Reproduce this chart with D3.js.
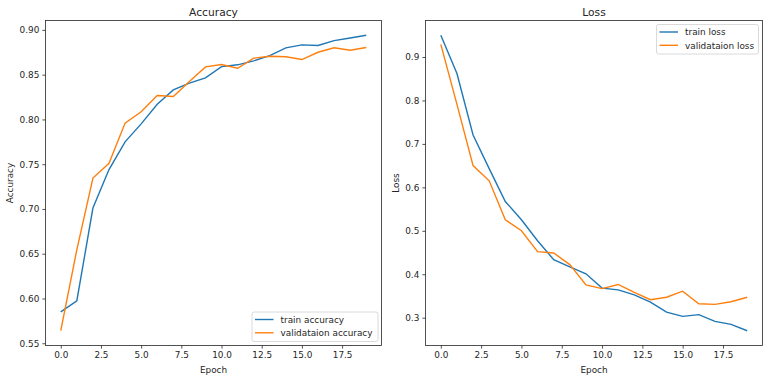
<!DOCTYPE html>
<html lang="en">
<head>
<meta charset="utf-8">
<title>Accuracy / Loss</title>
<script src="https://cdn.jsdelivr.net/npm/d3@7"></script>
<style>
body { margin: 0; background: #fff; }
svg { display: block; }
text { font-family: "DejaVu Sans", sans-serif; fill: #262626; }
.axis path, .axis line { stroke: #262626; stroke-width: 0.8; }
.axis text { font-size: 8.9px; }
.line { fill: none; stroke-width: 1.4; }
</style>
</head>
<body>
<div id="chart"></div>
<script>

var epochs = d3.range(0, 20);

var trainAccuracy = [0.585, 0.5975, 0.701, 0.744, 0.775, 0.795, 0.817, 0.833, 0.8405, 0.8464,
    0.859, 0.861, 0.8654, 0.8713, 0.880, 0.8833, 0.8826, 0.888, 0.891, 0.894];
var valAccuracy = [0.564, 0.6545, 0.7345, 0.751, 0.7959, 0.8085, 0.8267, 0.8256, 0.8423, 0.8587,
    0.8613, 0.8572, 0.8684, 0.8706, 0.870, 0.8669, 0.875, 0.880, 0.8773, 0.8803];

var trainLoss = [0.950, 0.862, 0.7204, 0.643, 0.5674, 0.5255, 0.477, 0.4337, 0.417, 0.401,
    0.368, 0.364, 0.3527, 0.3358, 0.3128, 0.303, 0.307, 0.2915, 0.2846, 0.270];
var valLoss = [0.929, 0.791, 0.650, 0.615, 0.5255, 0.5002, 0.452, 0.449, 0.4222, 0.3756,
    0.367, 0.3764, 0.358, 0.3413, 0.347, 0.361, 0.332, 0.3306, 0.3367, 0.347];

var xTicks = [0, 2.5, 5, 7.5, 10, 12.5, 15, 17.5];
var accTicks = [0.55, 0.60, 0.65, 0.70, 0.75, 0.80, 0.85, 0.90];
var lossTicks = [0.3, 0.4, 0.5, 0.6, 0.7, 0.8, 0.9];

var blue = "#1f77b4", orange = "#ff7f0e";

var svg = d3.select("#chart").append("svg")
    .attr("width", 768)
    .attr("height", 380);

// matplotlib style 5% margins
function padded(values) {
    var ext = d3.extent(values);
    var m = (ext[1] - ext[0]) * 0.05;
    return [ext[0] - m, ext[1] + m];
}

function panel(opts) {
    var g = svg.append("g");
    var left = opts.left, right = opts.right, top = opts.top, bottom = opts.bottom;

    var x = d3.scaleLinear().domain(padded(epochs)).range([left, right]);
    var y = d3.scaleLinear().domain(padded(opts.series[0].values.concat(opts.series[1].values)))
        .range([bottom, top]);

    g.append("g")
        .attr("class", "axis")
        .attr("transform", "translate(0," + bottom + ")")
        .call(d3.axisBottom(x).tickValues(xTicks).tickFormat(d3.format(".1f"))
            .tickSizeInner(3.1).tickSizeOuter(0).tickPadding(3.1));

    g.append("g")
        .attr("class", "axis")
        .attr("transform", "translate(" + left + ",0)")
        .call(d3.axisLeft(y).tickValues(opts.yTicks).tickFormat(d3.format(opts.yFormat))
            .tickSizeInner(3.1).tickSizeOuter(0).tickPadding(3.1));

    g.selectAll(".axis .domain").remove();

    var line = d3.line()
        .x(function(d, i) { return x(epochs[i]); })
        .y(function(d) { return y(d); });

    opts.series.forEach(function(s) {
        g.append("path")
            .attr("class", "line")
            .attr("d", line(s.values))
            .style("stroke", s.color);
    });

    g.append("rect")
        .attr("x", left).attr("y", top)
        .attr("width", right - left).attr("height", bottom - top)
        .style("fill", "none")
        .style("stroke", "#262626")
        .style("stroke-width", 0.8);

    g.append("text")
        .attr("x", (left + right) / 2)
        .attr("y", top - 5)
        .attr("text-anchor", "middle")
        .style("font-size", "10.7px")
        .text(opts.title);

    g.append("text")
        .attr("x", (left + right) / 2)
        .attr("y", 372.5)
        .attr("text-anchor", "middle")
        .style("font-size", "8.9px")
        .text("Epoch");

    g.append("text")
        .attr("transform", "translate(" + opts.yLabelX + "," + ((top + bottom) / 2) + ") rotate(-90)")
        .attr("text-anchor", "middle")
        .style("font-size", "8.9px")
        .text(opts.yLabel);

    // legend
    var lg = opts.legend;
    g.append("rect")
        .attr("x", lg.x).attr("y", lg.y)
        .attr("width", lg.w).attr("height", 29.5)
        .attr("rx", 2)
        .style("fill", "#fff").style("fill-opacity", 0.8)
        .style("stroke", "#d0d0d0").style("stroke-width", 0.8);

    opts.series.forEach(function(s, i) {
        var yy = lg.y + 7.5 + i * 13.3;
        g.append("line")
            .attr("x1", lg.x + 3).attr("x2", lg.x + 21.5)
            .attr("y1", yy).attr("y2", yy)
            .style("stroke", s.color).style("stroke-width", 1.4);
        g.append("text")
            .attr("x", lg.x + 28.5).attr("y", yy + 3.2)
            .style("font-size", "8.9px")
            .text(s.name);
    });
}

panel({
    left: 45.5, right: 381.5, top: 20.5, bottom: 345.5,
    title: "Accuracy", yLabel: "Accuracy", yLabelX: 13,
    yTicks: accTicks, yFormat: ".2f",
    series: [
        {name: "train accuracy", values: trainAccuracy, color: blue},
        {name: "validataion accuracy", values: valAccuracy, color: orange}
    ],
    legend: {x: 252, y: 312, w: 126}
});

panel({
    left: 425.5, right: 762.5, top: 20.5, bottom: 345.5,
    title: "Loss", yLabel: "Loss", yLabelX: 399,
    yTicks: lossTicks, yFormat: ".1f",
    series: [
        {name: "train loss", values: trainLoss, color: blue},
        {name: "validataion loss", values: valLoss, color: orange}
    ],
    legend: {x: 656.5, y: 24.5, w: 102}
});

</script>
</body>
</html>
